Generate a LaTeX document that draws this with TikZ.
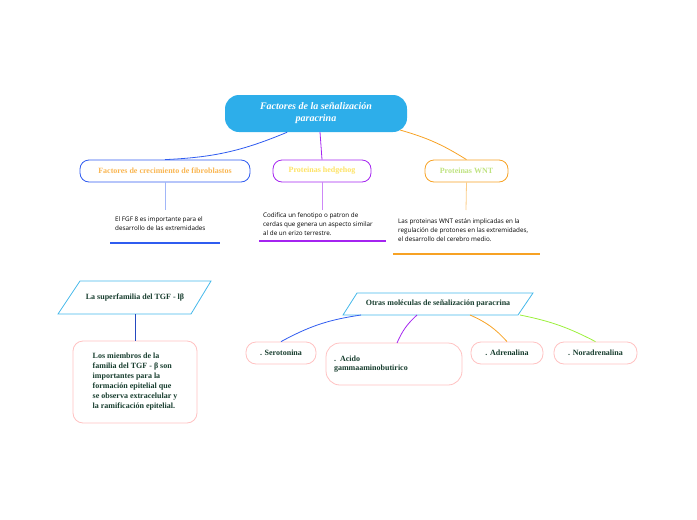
\documentclass[tikz,border=0pt]{standalone}
\usepackage{fontspec}
\setmainfont{Liberation Serif}
\newfontfamily\osans{Open Sans}
\begin{document}
\begin{tikzpicture}[x=1pt,y=-1pt,
  lbl/.style={font=\fontsize{8}{9.5}\selectfont\bfseries},
  para/.style={font=\osans\fontsize{6.3}{9}\selectfont,align=left,anchor=north west,inner sep=0},
  pinkbox/.style={draw=pink!80!red!60,line width=0.8pt,rounded corners=10pt,text=dkg,lbl},
  dkgt/.style={text=dkg}]
\definecolor{dkg}{HTML}{173D2E}
\definecolor{cblue}{HTML}{2DAEEA}
\definecolor{bl}{HTML}{2F5CF0}
\definecolor{pu}{HTML}{A424F0}
\definecolor{orr}{HTML}{F7A224}
\definecolor{gr}{HTML}{9CF03C}
\definecolor{lb}{HTML}{45B8EA}
\colorlet{pinkc}{pink!80!red!60}
\useasboundingbox (0,0) rectangle (697,520);
\node[fill=cblue,rounded corners=14pt,minimum width=182pt,minimum height=37pt,text=white,align=center,font=\fontsize{10}{12}\selectfont\bfseries\itshape] (root) at (316,113.5) {Factores de la señalización\\paracrina};
\node[draw=bl,line width=0.8pt,rounded corners=9pt,minimum width=170pt,minimum height=22pt,text=orr!80!white,lbl] (fgf) at (165,171) {Factores de crecimiento de fibroblastos};
\node[draw=pu,line width=0.8pt,rounded corners=9pt,minimum width=98pt,minimum height=22pt,text=yellow!70!orange!60!white,lbl] (hh) at (322,171) {Proteinas hedgehog};
\node[draw=orr,line width=0.8pt,rounded corners=9pt,minimum width=83pt,minimum height=22pt,text=gr!70!olive!60!white,lbl] (wnt) at (466.5,171) {Proteinas WNT};
\draw[bl,line width=0.8pt] (root.213) to[bend left=10] (fgf.north);
\draw[pu,line width=0.8pt] (320,132) -- (hh.north);
\draw[orr,line width=0.8pt] (400,130) to[bend left=8] (wnt.north);
\coordinate (f1) at (165,210); \coordinate (h1) at (322,210); \coordinate (w1) at (466,210);
\draw[bl!45,line width=0.8pt] (fgf.south) -- (f1);
\draw[pu!55,line width=0.8pt] (hh.south) -- (h1);
\draw[orr!55,line width=0.8pt] (wnt.south) -- (w1);
\node[para] (tf) at (115,217) {El FGF 8 es importante para el\\desarrollo de las extremidades};
\draw[bl,line width=1.2pt] (110,243) -- (220,243);
\node[para] (th) at (263,212) {Codifica un fenotipo o patron de\\cerdas que genera un aspecto similar\\al de un erizo terrestre.};
\draw[pu,line width=1.2pt] (259,241) -- (386,241);
\node[para] (tw) at (398,218) {Las proteinas WNT están implicadas en la\\regulación de protones en las extremidades,\\el desarrollo del cerebro medio.};
\draw[orr,line width=1.2pt] (393,254) -- (540,254);
\draw[lb,line width=0.8pt] (58,314) -- (80,281) -- (211,281) -- (191,314) -- cycle;
\node[dkgt,lbl] (tgf) at (135,297.5) {La superfamilia del TGF - lβ};
\node[pinkbox,minimum width=124pt,minimum height=82pt,align=left,font=\fontsize{8}{10}\selectfont\bfseries] (mem) at (135,382) {Los miembros de la\\familia del TGF - β son\\importantes para la\\formación epitelial que\\se observa extracelular y\\la ramificación epitelial.};
\draw[bl!80!black,line width=0.8pt] (135,314) -- (mem.north);
\draw[lb,line width=0.8pt] (343,315) -- (357,293) -- (533,293) -- (518,315) -- cycle;
\node[dkgt,lbl] (otr) at (438,303.5) {Otras moléculas de señalización paracrina};
\node[pinkbox,minimum width=70pt,minimum height=22pt] (ser) at (281,353) {. Serotonina};
\node[pinkbox,minimum width=136pt,minimum height=42pt,align=left,text width=120pt,rounded corners=14pt] (aci) at (394,364) {. Acido\\gammaaminobutirico};
\node[pinkbox,minimum width=72pt,minimum height=22pt] (adr) at (507,353) {. Adrenalina};
\node[pinkbox,minimum width=83pt,minimum height=22pt] (nor) at (595.5,353) {. Noradrenalina};
\draw[bl,line width=0.8pt] (361,315) to[bend right=10] (ser.north);
\draw[pu,line width=0.8pt] (417,315) to[bend right=12] (397,343);
\draw[orr,line width=0.8pt] (470,315) to[bend left=12] (adr.north);
\draw[gr,line width=0.8pt] (520,315) to[bend left=8] (nor.north);
\end{tikzpicture}
\end{document}
